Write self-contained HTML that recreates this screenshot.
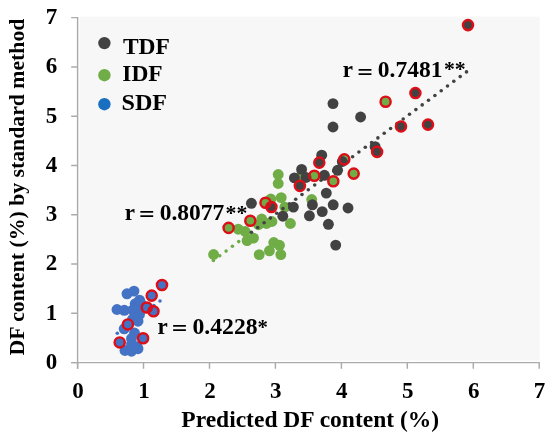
<!DOCTYPE html>
<html lang="en"><head><meta charset="utf-8"><title>DF content scatter plot</title>
<style>html,body{margin:0;padding:0;background:#fff}body{width:550px;height:437px;overflow:hidden}</style></head>
<body>
<svg width="550" height="437" viewBox="0 0 550 437" style="display:block;font-family:'Liberation Serif',serif;font-weight:bold">
<rect width="550" height="437" fill="#ffffff"/>
<rect x="79.6" y="16.6" width="460.1" height="344.0" fill="#f7f7f7"/>
<g stroke="#ababab" stroke-width="1.45" fill="none">
<path d="M77.6 16.900000000000002V368.8M71.19999999999999 362.6H539.8000000000001"/>
<path d="M77.6 362.6v6.2M77.6 362.6h-6.4"/>
<path d="M143.5 362.6v6.2M77.6 313.3h-6.4"/>
<path d="M209.5 362.6v6.2M77.6 264.0h-6.4"/>
<path d="M275.4 362.6v6.2M77.6 214.7h-6.4"/>
<path d="M341.4 362.6v6.2M77.6 165.5h-6.4"/>
<path d="M407.3 362.6v6.2M77.6 116.2h-6.4"/>
<path d="M473.3 362.6v6.2M77.6 66.9h-6.4"/>
<path d="M539.2 362.6v6.2M77.6 17.6h-6.4"/>
</g>
<g font-size="23px" fill="#000" text-anchor="middle">
<text x="78.0" y="397.7">0</text>
<text x="51.4" y="369.0">0</text>
<text x="143.9" y="397.7">1</text>
<text x="51.4" y="319.7">1</text>
<text x="209.9" y="397.7">2</text>
<text x="51.4" y="270.4">2</text>
<text x="275.8" y="397.7">3</text>
<text x="51.4" y="221.1">3</text>
<text x="341.8" y="397.7">4</text>
<text x="51.4" y="171.9">4</text>
<text x="407.7" y="397.7">5</text>
<text x="51.4" y="122.6">5</text>
<text x="473.7" y="397.7">6</text>
<text x="51.4" y="73.3">6</text>
<text x="539.6" y="397.7">7</text>
<text x="51.4" y="24.0">7</text>
</g>
<text x="181.3" y="427.2" font-size="23.5px" textLength="257.8" lengthAdjust="spacingAndGlyphs">Predicted DF content (%)</text>
<text transform="translate(24.1 355.4) rotate(-90)" font-size="21.7px" textLength="336.8" lengthAdjust="spacingAndGlyphs">DF content (%) by standard method</text>
<circle cx="213.4" cy="260.5" r="1.8" fill="#70ad47"/><circle cx="219.8" cy="255.8" r="1.8" fill="#70ad47"/><circle cx="226.1" cy="251.1" r="1.8" fill="#70ad47"/><circle cx="232.4" cy="246.3" r="1.8" fill="#70ad47"/><circle cx="238.7" cy="241.6" r="1.8" fill="#70ad47"/><circle cx="245.1" cy="236.9" r="1.8" fill="#70ad47"/>
<circle cx="117.3" cy="333.2" r="1.8" fill="#4472c4"/><circle cx="123.4" cy="328.6" r="1.8" fill="#4472c4"/><circle cx="129.5" cy="324.0" r="1.8" fill="#4472c4"/><circle cx="135.6" cy="319.4" r="1.8" fill="#4472c4"/><circle cx="141.7" cy="314.8" r="1.8" fill="#4472c4"/><circle cx="147.8" cy="310.2" r="1.8" fill="#4472c4"/><circle cx="153.9" cy="305.6" r="1.8" fill="#4472c4"/><circle cx="160.0" cy="301.0" r="1.8" fill="#4472c4"/>
<circle cx="213.6" cy="254.5" r="5.45" fill="#70ad47"/><circle cx="238.2" cy="229.2" r="5.45" fill="#70ad47"/><circle cx="245.2" cy="231.5" r="5.45" fill="#70ad47"/><circle cx="247.1" cy="240.6" r="5.45" fill="#70ad47"/><circle cx="253.5" cy="238.1" r="5.45" fill="#70ad47"/><circle cx="261.7" cy="219.0" r="5.45" fill="#70ad47"/><circle cx="258.5" cy="224.7" r="5.45" fill="#70ad47"/><circle cx="271.9" cy="221.5" r="5.45" fill="#70ad47"/><circle cx="290.4" cy="223.5" r="5.45" fill="#70ad47"/><circle cx="259.2" cy="254.6" r="5.45" fill="#70ad47"/><circle cx="269.4" cy="250.8" r="5.45" fill="#70ad47"/><circle cx="273.8" cy="242.5" r="5.45" fill="#70ad47"/><circle cx="279.5" cy="245.3" r="5.45" fill="#70ad47"/><circle cx="280.8" cy="254.6" r="5.45" fill="#70ad47"/><circle cx="278.2" cy="174.5" r="5.45" fill="#70ad47"/><circle cx="278.2" cy="183.5" r="5.45" fill="#70ad47"/><circle cx="281.2" cy="197.6" r="5.45" fill="#70ad47"/><circle cx="284.9" cy="207.2" r="5.45" fill="#70ad47"/><circle cx="270.8" cy="199.0" r="5.45" fill="#70ad47"/><circle cx="311.7" cy="199.5" r="5.45" fill="#70ad47"/><circle cx="300.5" cy="176.6" r="5.45" fill="#70ad47"/><circle cx="266.5" cy="223.5" r="5.45" fill="#70ad47"/><circle cx="228.6" cy="227.9" r="5.45" fill="#70ad47"/><circle cx="250.3" cy="220.7" r="5.45" fill="#70ad47"/><circle cx="265.5" cy="202.7" r="5.45" fill="#70ad47"/><circle cx="314.3" cy="175.8" r="5.45" fill="#70ad47"/><circle cx="333.3" cy="181.3" r="5.45" fill="#70ad47"/><circle cx="344.3" cy="159.4" r="5.45" fill="#70ad47"/><circle cx="353.7" cy="173.6" r="5.45" fill="#70ad47"/><circle cx="385.6" cy="101.7" r="5.45" fill="#70ad47"/>
<circle cx="251.4" cy="203.3" r="5.45" fill="#424242"/><circle cx="293.4" cy="207.1" r="5.45" fill="#424242"/><circle cx="282.8" cy="216.2" r="5.45" fill="#424242"/><circle cx="294.4" cy="177.9" r="5.45" fill="#424242"/><circle cx="301.6" cy="169.4" r="5.45" fill="#424242"/><circle cx="306.0" cy="177.5" r="5.45" fill="#424242"/><circle cx="321.7" cy="155.2" r="5.45" fill="#424242"/><circle cx="324.4" cy="175.3" r="5.45" fill="#424242"/><circle cx="337.6" cy="170.3" r="5.45" fill="#424242"/><circle cx="326.3" cy="193.1" r="5.45" fill="#424242"/><circle cx="312.4" cy="204.8" r="5.45" fill="#424242"/><circle cx="333.2" cy="204.8" r="5.45" fill="#424242"/><circle cx="322.2" cy="211.6" r="5.45" fill="#424242"/><circle cx="309.4" cy="215.8" r="5.45" fill="#424242"/><circle cx="348.0" cy="208.0" r="5.45" fill="#424242"/><circle cx="328.4" cy="224.3" r="5.45" fill="#424242"/><circle cx="335.7" cy="245.1" r="5.45" fill="#424242"/><circle cx="333.0" cy="103.6" r="5.45" fill="#424242"/><circle cx="333.0" cy="127.0" r="5.45" fill="#424242"/><circle cx="360.6" cy="117.0" r="5.45" fill="#424242"/><circle cx="375.1" cy="146.7" r="5.45" fill="#424242"/><circle cx="342.3" cy="161.5" r="5.45" fill="#424242"/><circle cx="271.4" cy="207.0" r="5.45" fill="#424242"/><circle cx="299.9" cy="185.9" r="5.45" fill="#424242"/><circle cx="319.3" cy="162.6" r="5.45" fill="#424242"/><circle cx="377.1" cy="151.9" r="5.45" fill="#424242"/><circle cx="401.0" cy="126.4" r="5.45" fill="#424242"/><circle cx="415.4" cy="93.1" r="5.45" fill="#424242"/><circle cx="428.0" cy="124.6" r="5.45" fill="#424242"/><circle cx="468.0" cy="25.1" r="5.45" fill="#424242"/>
<circle cx="127.0" cy="293.8" r="5.45" fill="#4472c4"/><circle cx="134.0" cy="291.1" r="5.45" fill="#4472c4"/><circle cx="139.6" cy="300.2" r="5.45" fill="#4472c4"/><circle cx="135.2" cy="303.8" r="5.45" fill="#4472c4"/><circle cx="117.0" cy="309.5" r="5.45" fill="#4472c4"/><circle cx="124.3" cy="310.3" r="5.45" fill="#4472c4"/><circle cx="132.5" cy="310.2" r="5.45" fill="#4472c4"/><circle cx="138.0" cy="307.5" r="5.45" fill="#4472c4"/><circle cx="140.7" cy="303.0" r="5.45" fill="#4472c4"/><circle cx="135.2" cy="315.7" r="5.45" fill="#4472c4"/><circle cx="138.0" cy="321.2" r="5.45" fill="#4472c4"/><circle cx="132.5" cy="319.4" r="5.45" fill="#4472c4"/><circle cx="124.2" cy="328.8" r="5.45" fill="#4472c4"/><circle cx="134.5" cy="333.0" r="5.45" fill="#4472c4"/><circle cx="131.5" cy="338.5" r="5.45" fill="#4472c4"/><circle cx="131.5" cy="344.1" r="5.45" fill="#4472c4"/><circle cx="137.0" cy="346.8" r="5.45" fill="#4472c4"/><circle cx="125.0" cy="350.5" r="5.45" fill="#4472c4"/><circle cx="131.5" cy="351.2" r="5.45" fill="#4472c4"/><circle cx="138.0" cy="348.7" r="5.45" fill="#4472c4"/><circle cx="139.5" cy="314.5" r="5.45" fill="#4472c4"/><circle cx="162.0" cy="285.0" r="5.45" fill="#4472c4"/><circle cx="151.7" cy="295.6" r="5.45" fill="#4472c4"/><circle cx="146.8" cy="307.5" r="5.45" fill="#4472c4"/><circle cx="153.5" cy="311.3" r="5.45" fill="#4472c4"/><circle cx="127.9" cy="324.4" r="5.45" fill="#4472c4"/><circle cx="143.1" cy="338.3" r="5.45" fill="#4472c4"/><circle cx="119.7" cy="342.4" r="5.45" fill="#4472c4"/>
<circle cx="251.4" cy="232.2" r="1.8" fill="#424242"/><circle cx="257.7" cy="227.5" r="1.8" fill="#424242"/><circle cx="264.1" cy="222.8" r="1.8" fill="#424242"/><circle cx="270.4" cy="218.1" r="1.8" fill="#424242"/><circle cx="276.7" cy="213.3" r="1.8" fill="#424242"/><circle cx="283.0" cy="208.6" r="1.8" fill="#424242"/><circle cx="289.4" cy="203.9" r="1.8" fill="#424242"/><circle cx="295.7" cy="199.2" r="1.8" fill="#424242"/><circle cx="302.0" cy="194.5" r="1.8" fill="#424242"/><circle cx="308.3" cy="189.8" r="1.8" fill="#424242"/><circle cx="314.7" cy="185.0" r="1.8" fill="#424242"/><circle cx="321.0" cy="180.3" r="1.8" fill="#424242"/><circle cx="327.3" cy="175.6" r="1.8" fill="#424242"/><circle cx="333.6" cy="170.9" r="1.8" fill="#424242"/><circle cx="340.0" cy="166.2" r="1.8" fill="#424242"/><circle cx="346.3" cy="161.5" r="1.8" fill="#424242"/><circle cx="352.6" cy="156.8" r="1.8" fill="#424242"/><circle cx="358.9" cy="152.0" r="1.8" fill="#424242"/><circle cx="365.3" cy="147.3" r="1.8" fill="#424242"/><circle cx="371.6" cy="142.6" r="1.8" fill="#424242"/><circle cx="377.9" cy="137.9" r="1.8" fill="#424242"/><circle cx="384.2" cy="133.2" r="1.8" fill="#424242"/><circle cx="390.6" cy="128.5" r="1.8" fill="#424242"/><circle cx="396.9" cy="123.8" r="1.8" fill="#424242"/><circle cx="403.2" cy="119.0" r="1.8" fill="#424242"/><circle cx="409.5" cy="114.3" r="1.8" fill="#424242"/><circle cx="415.9" cy="109.6" r="1.8" fill="#424242"/><circle cx="422.2" cy="104.9" r="1.8" fill="#424242"/><circle cx="428.5" cy="100.2" r="1.8" fill="#424242"/><circle cx="434.9" cy="95.5" r="1.8" fill="#424242"/><circle cx="441.2" cy="90.8" r="1.8" fill="#424242"/><circle cx="447.5" cy="86.0" r="1.8" fill="#424242"/><circle cx="453.8" cy="81.3" r="1.8" fill="#424242"/><circle cx="460.2" cy="76.6" r="1.8" fill="#424242"/><circle cx="466.5" cy="71.9" r="1.8" fill="#424242"/>
<circle cx="162.0" cy="285.0" r="5.05" fill="none" stroke="#dc0f18" stroke-width="2.45"/><circle cx="151.7" cy="295.6" r="5.05" fill="none" stroke="#dc0f18" stroke-width="2.45"/><circle cx="146.8" cy="307.5" r="5.05" fill="none" stroke="#dc0f18" stroke-width="2.45"/><circle cx="153.5" cy="311.3" r="5.05" fill="none" stroke="#dc0f18" stroke-width="2.45"/><circle cx="127.9" cy="324.4" r="5.05" fill="none" stroke="#dc0f18" stroke-width="2.45"/><circle cx="143.1" cy="338.3" r="5.05" fill="none" stroke="#dc0f18" stroke-width="2.45"/><circle cx="119.7" cy="342.4" r="5.05" fill="none" stroke="#dc0f18" stroke-width="2.45"/><circle cx="228.6" cy="227.9" r="5.05" fill="none" stroke="#dc0f18" stroke-width="2.45"/><circle cx="250.3" cy="220.7" r="5.05" fill="none" stroke="#dc0f18" stroke-width="2.45"/><circle cx="265.5" cy="202.7" r="5.05" fill="none" stroke="#dc0f18" stroke-width="2.45"/><circle cx="314.3" cy="175.8" r="5.05" fill="none" stroke="#dc0f18" stroke-width="2.45"/><circle cx="333.3" cy="181.3" r="5.05" fill="none" stroke="#dc0f18" stroke-width="2.45"/><circle cx="344.3" cy="159.4" r="5.05" fill="none" stroke="#dc0f18" stroke-width="2.45"/><circle cx="353.7" cy="173.6" r="5.05" fill="none" stroke="#dc0f18" stroke-width="2.45"/><circle cx="385.6" cy="101.7" r="5.05" fill="none" stroke="#dc0f18" stroke-width="2.45"/><circle cx="271.4" cy="207.0" r="5.05" fill="none" stroke="#dc0f18" stroke-width="2.45"/><circle cx="299.9" cy="185.9" r="5.05" fill="none" stroke="#dc0f18" stroke-width="2.45"/><circle cx="319.3" cy="162.6" r="5.05" fill="none" stroke="#dc0f18" stroke-width="2.45"/><circle cx="377.1" cy="151.9" r="5.05" fill="none" stroke="#dc0f18" stroke-width="2.45"/><circle cx="401.0" cy="126.4" r="5.05" fill="none" stroke="#dc0f18" stroke-width="2.45"/><circle cx="415.4" cy="93.1" r="5.05" fill="none" stroke="#dc0f18" stroke-width="2.45"/><circle cx="428.0" cy="124.6" r="5.05" fill="none" stroke="#dc0f18" stroke-width="2.45"/><circle cx="468.0" cy="25.1" r="5.05" fill="none" stroke="#dc0f18" stroke-width="2.45"/>
<circle cx="104.4" cy="43.1" r="6.2" fill="#424242"/><circle cx="104.4" cy="75.2" r="6.2" fill="#70ad47"/><circle cx="104.4" cy="104.2" r="6.2" fill="#1a6fc0"/>
<g font-size="23.5px" fill="#000">
<text x="122.9" y="53.6" textLength="47.0" lengthAdjust="spacingAndGlyphs">TDF</text>
<text x="122.3" y="81.1" textLength="40.4" lengthAdjust="spacingAndGlyphs">IDF</text>
<text x="121.5" y="109.6" textLength="45.6" lengthAdjust="spacingAndGlyphs">SDF</text>
</g>
<g font-size="23px" fill="#000">
<text x="342.8" y="77.3">r <tspan x="357.2" y="79.5" textLength="15.7" lengthAdjust="spacingAndGlyphs">=</tspan> <tspan x="377.8" y="77.3" textLength="64.6" lengthAdjust="spacingAndGlyphs">0.7481</tspan><tspan x="443.9" y="76.4" font-size="21.5px" textLength="21.8" lengthAdjust="spacingAndGlyphs">**</tspan></text>
<text x="124.7" y="220">r <tspan x="139.1" y="222.2" textLength="15.7" lengthAdjust="spacingAndGlyphs">=</tspan> <tspan x="159.7" y="220" textLength="64.6" lengthAdjust="spacingAndGlyphs">0.8077</tspan><tspan x="225.6" y="219.7" font-size="21.5px" textLength="21.8" lengthAdjust="spacingAndGlyphs">**</tspan></text>
<text x="157.4" y="334.1">r <tspan x="171.8" y="336.3" textLength="15.7" lengthAdjust="spacingAndGlyphs">=</tspan> <tspan x="192.4" y="334.1" textLength="65.2" lengthAdjust="spacingAndGlyphs">0.4228</tspan><tspan x="257.6" y="333.8" font-size="21.5px" textLength="10.4" lengthAdjust="spacingAndGlyphs">*</tspan></text>
</g>
</svg>
</body></html>
